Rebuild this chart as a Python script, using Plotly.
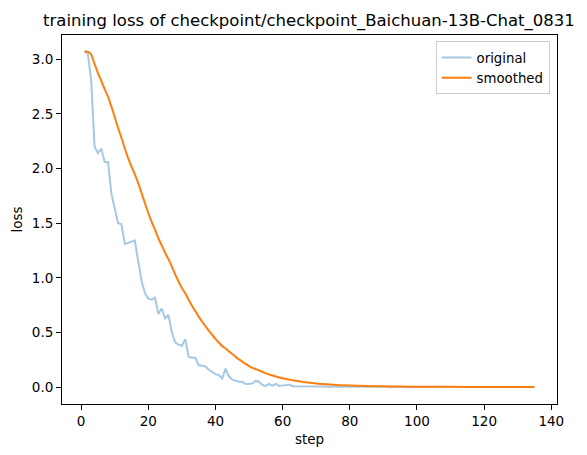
import plotly.graph_objects as go

# raw training loss per step
loss = [
    3.07, 3.05, 2.80, 2.20, 2.14, 2.18, 2.06, 2.06, 1.77, 1.62,   # 1-10
    1.50, 1.49, 1.31, 1.32, 1.33, 1.34, 1.15, 0.97, 0.86, 0.81,   # 11-20
    0.80, 0.82, 0.67, 0.72, 0.63, 0.66, 0.50, 0.41, 0.39, 0.38,   # 21-30
    0.44, 0.28, 0.27, 0.27, 0.20, 0.20, 0.19, 0.16, 0.14, 0.12,   # 31-40
    0.11, 0.08, 0.17, 0.10, 0.07, 0.06, 0.05, 0.05, 0.03, 0.03,   # 41-50
    0.035, 0.06, 0.05, 0.02, 0.012, 0.03, 0.015, 0.03, 0.012, 0.015,  # 51-60
    0.02, 0.025, 0.01, 0.01, 0.008, 0.012, 0.008, 0.01, 0.007, 0.007,  # 61-70
    0.006, 0.008, 0.006, 0.005, 0.007, 0.006, 0.005, 0.006, 0.005, 0.005,  # 71-80
    0.004, 0.006, 0.004, 0.005, 0.004, 0.004, 0.005, 0.004, 0.004, 0.004,  # 81-90
    0.003, 0.004, 0.004, 0.003, 0.004, 0.003, 0.003, 0.004, 0.003, 0.003,  # 91-100
    0.003, 0.003, 0.004, 0.003, 0.003, 0.003, 0.002, 0.003, 0.003, 0.003,  # 101-110
    0.002, 0.003, 0.003, 0.002, 0.003, 0.002, 0.003, 0.002, 0.002, 0.003,  # 111-120
    0.002, 0.002, 0.003, 0.002, 0.002, 0.002, 0.003, 0.002, 0.002, 0.002,  # 121-130
    0.002, 0.002, 0.002, 0.002, 0.002,                              # 131-135
]
steps = list(range(1, len(loss) + 1))

# smoothed curve
smooth_steps = list(range(1, 71)) + [75, 80, 85, 90, 95, 100, 110, 120, 135]
smoothed = [
    3.070, 3.068, 3.041, 2.955, 2.872, 2.801, 2.725, 2.657, 2.567, 2.470,
    2.371, 2.281, 2.182, 2.094, 2.016, 1.947, 1.866, 1.775, 1.682, 1.593,
    1.512, 1.441, 1.362, 1.297, 1.229, 1.171, 1.103, 1.032, 0.967, 0.907,
    0.859, 0.800, 0.746, 0.697, 0.646, 0.601, 0.559, 0.518, 0.480, 0.443,
    0.409, 0.376, 0.355, 0.329, 0.303, 0.278, 0.255, 0.234, 0.213, 0.194,
    0.178, 0.166, 0.154, 0.140, 0.127, 0.117, 0.107, 0.099, 0.090, 0.082,
    0.076, 0.071, 0.064, 0.059, 0.054, 0.049, 0.045, 0.042, 0.038, 0.035,
    0.023, 0.016, 0.012, 0.0085, 0.0065, 0.005, 0.004, 0.003, 0.003,
]

x_ticks = [0, 20, 40, 60, 80, 100, 120, 140]
y_ticks = [0.0, 0.5, 1.0, 1.5, 2.0, 2.5, 3.0]

fig = go.Figure()
fig.add_trace(go.Scatter(x=steps, y=loss, mode='lines', name='original',
                         line=dict(color='rgba(31,119,180,0.4)', width=2)))
fig.add_trace(go.Scatter(x=smooth_steps, y=smoothed, mode='lines', name='smoothed',
                         line=dict(color='#ff7f0e', width=2, shape='spline', smoothing=0.6)))

axis_style = dict(showline=True, linecolor='black', linewidth=1, mirror=True,
                  ticks='outside', ticklen=5, tickcolor='black', tickwidth=1,
                  showgrid=False, zeroline=False, automargin=False,
                  tickfont=dict(size=13.5, color='black'))

# page body adds 8px on every side, so keep the figure inside the window
fig.update_layout(
    width=571, height=439,
    margin=dict(l=54, r=22, t=27, b=43),
    paper_bgcolor='white', plot_bgcolor='white',
    font=dict(family='DejaVu Sans', color='black'),
    title=dict(text='training loss of checkpoint/checkpoint_Baichuan-13B-Chat_0831',
               x=0.527, xanchor='center', y=0.972, yanchor='middle',
               font=dict(size=16.5, color='black')),
    legend=dict(x=0.985, y=0.983, xanchor='right', yanchor='top',
                bgcolor='rgba(255,255,255,0.8)', bordercolor='#cccccc', borderwidth=1,
                font=dict(size=13.3), tracegroupgap=0, itemwidth=30),
    xaxis=dict(range=[-5.7, 141.7], tickvals=x_ticks,
               title=dict(text='step', font=dict(size=13.5), standoff=7), **axis_style),
    yaxis=dict(range=[-0.153, 3.22], tickvals=y_ticks, tickformat='.1f',
               title=dict(text='loss', font=dict(size=13.5), standoff=6), **axis_style),
)

fig.write_html("out.html")
